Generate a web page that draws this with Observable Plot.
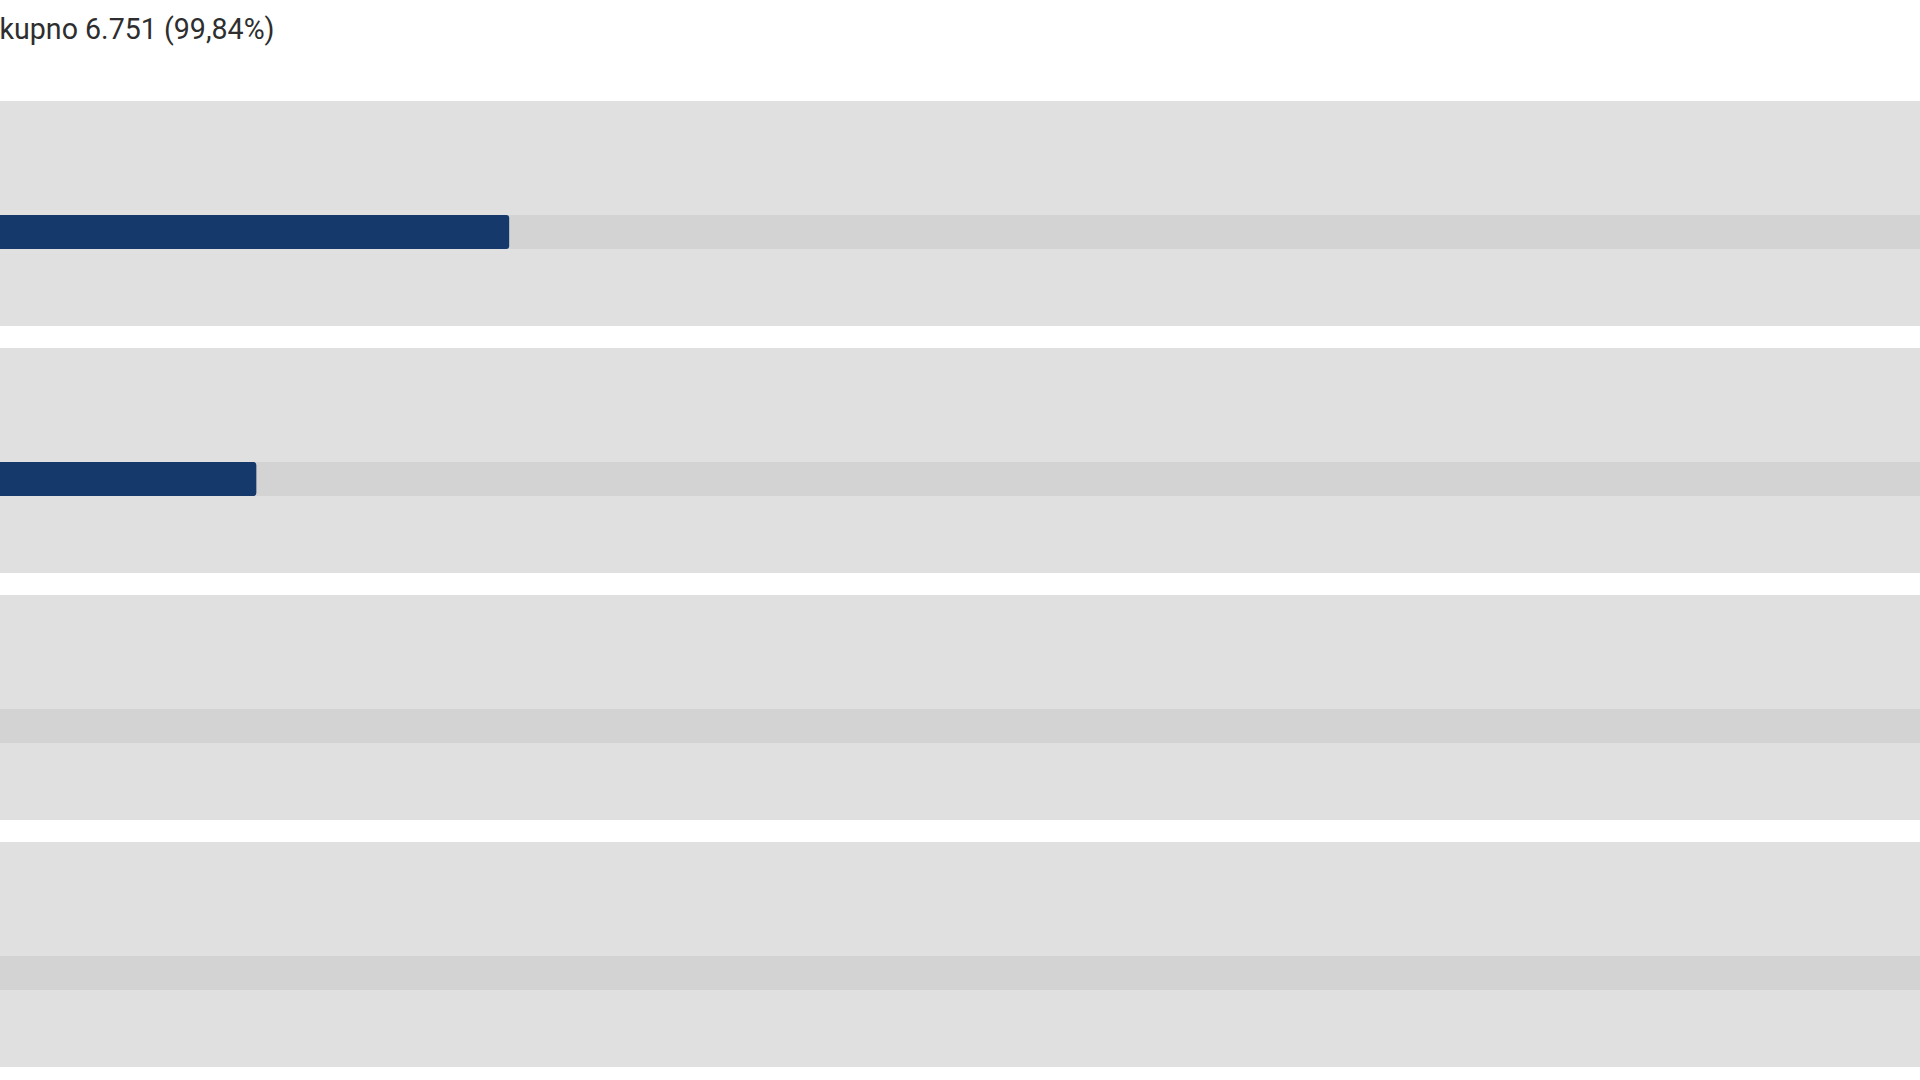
<!DOCTYPE html>
<html>
<head>
<meta charset="utf-8">
<script src="https://cdn.jsdelivr.net/npm/d3@7"></script>
<script src="https://cdn.jsdelivr.net/npm/@observablehq/plot@0.6"></script>
<style>
  html, body { margin: 0; padding: 0; background: #ffffff; overflow: hidden; }
  body { width: 1920px; height: 1080px; position: relative; }
  #title {
    position: absolute; left: -19px; top: 13px;
    font-family: Roboto, "Noto Sans", sans-serif; font-size: 28.6px;
    color: #2e2e2e; white-space: nowrap; line-height: 32px;
  }
  #chart { position: absolute; left: 0; top: 101px; }
</style>
</head>
<body>
<div id="title"></div>
<div id="chart"></div>
<script>
const titleText = "Ukupno 6.751 (99,84%)";
const categories = ["Kandidat 1", "Kandidat 2", "Kandidat 3", "Kandidat 4"];
const values = [26.9, 13.8, 0, 0];
const xDomain = [0, 100];

const data = categories.map((name, i) => ({name, value: values[i]}));

document.getElementById("title").textContent = titleText;

const chart = Plot.plot({
  width: 1920,
  height: 979,
  marginTop: 0,
  marginLeft: 0,
  marginRight: 0,
  marginBottom: 13,
  style: {background: "transparent", overflow: "visible"},
  x: {domain: xDomain, range: [-10, 1920], axis: null},
  y: {type: "band", domain: categories, paddingInner: 0.09, paddingOuter: 0, axis: null},
  marks: [
    Plot.barX(categories, {y: d => d, x1: xDomain[0], x2: xDomain[1], fill: "#e0e0e0"}),
    Plot.barX(categories, {y: d => d, x1: xDomain[0], x2: xDomain[1], fill: "#d3d3d3", insetTop: 114, insetBottom: 77}),
    Plot.barX(data, {y: "name", x: "value", fill: "#15396b", insetTop: 114, insetBottom: 77, rx: 3})
  ]
});
document.getElementById("chart").appendChild(chart);
</script>
</body>
</html>
